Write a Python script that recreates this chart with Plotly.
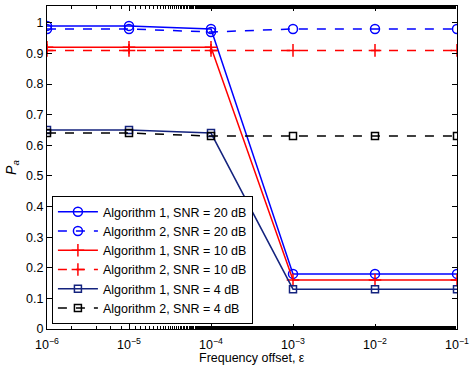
import plotly.graph_objects as go

x = [1e-6, 1e-5, 1e-4, 1e-3, 1e-2, 1e-1]
alg1_20 = [0.99, 0.99, 0.98, 0.18, 0.18, 0.18]
alg2_20 = [0.98, 0.98, 0.97, 0.98, 0.98, 0.98]
alg1_10 = [0.92, 0.92, 0.92, 0.16, 0.16, 0.16]
alg2_10 = [0.91, 0.91, 0.91, 0.91, 0.91, 0.91]
alg1_4 = [0.65, 0.65, 0.64, 0.13, 0.13, 0.13]
alg2_4 = [0.64, 0.64, 0.63, 0.63, 0.63, 0.63]

names = ["Algorithm 1, SNR = 20 dB", "Algorithm 2, SNR = 20 dB",
         "Algorithm 1, SNR = 10 dB", "Algorithm 2, SNR = 10 dB",
         "Algorithm 1, SNR = 4 dB", "Algorithm 2, SNR = 4 dB"]
xtick_vals = [1e-6, 1e-5, 1e-4, 1e-3, 1e-2, 1e-1]
xtick_text = ["10<sup>−6</sup>", "10<sup>−5</sup>", "10<sup>−4</sup>",
              "10<sup>−3</sup>", "10<sup>−2</sup>", "10<sup>−1</sup>"]
ytick_vals = [0, 0.1, 0.2, 0.3, 0.4, 0.5, 0.6, 0.7, 0.8, 0.9, 1]
ytick_text = ["0", "0.1", "0.2", "0.3", "0.4", "0.5", "0.6", "0.7", "0.8", "0.9", "1"]

series = [
    (alg1_20, "#0000ff", "solid", "circle-open", 9),
    (alg2_20, "#0000ff", "dash", "circle-open", 9),
    (alg1_10, "#ff0000", "solid", "cross-thin-open", 9),
    (alg2_10, "#ff0000", "dash", "cross-thin-open", 9),
    (alg1_4, "#14237e", "solid", "square-open", 7),
    (alg2_4, "#000000", "dash", "square-open", 7),
]

FONT = "Liberation Sans, Arial"

fig = go.Figure()
for (ys, col, dash, sym, sz), nm in zip(series, names):
    fig.add_trace(go.Scatter(
        x=x, y=ys, name=nm, mode="lines+markers",
        line=dict(color=col, width=1.5, dash=dash),
        marker=dict(symbol=sym, size=sz, color=col, line=dict(color=col, width=1.5)),
    ))

axis_common = dict(
    showline=True, linecolor="black", linewidth=1, mirror="ticks",
    ticks="inside", ticklen=5, tickcolor="black", showgrid=False, zeroline=False,
    tickfont=dict(family=FONT, size=12.5, color="black"),
)

fig.update_xaxes(type="log", range=[-6, -1], tickvals=xtick_vals, ticktext=xtick_text,
                 minor=dict(ticks="inside", ticklen=3, tickcolor="black", showgrid=False),
                 ticklabelstandoff=4,
                 **axis_common)
fig.update_yaxes(range=[0, 1.055], tickvals=ytick_vals, ticktext=ytick_text,
                 title=dict(text="<i>P<sub>a</sub></i>", font=dict(family=FONT, size=14, color="black"), standoff=6),
                 **axis_common)

fig.add_annotation(text="Frequency offset, ε", xref="paper", yref="paper",
                   x=0.5, y=-0.09, xanchor="center", yanchor="middle", showarrow=False,
                   font=dict(family=FONT, size=12.5, color="black"))

fig.update_layout(
    width=474, height=369,
    margin=dict(l=47, r=15, t=5, b=40),
    plot_bgcolor="white", paper_bgcolor="white",
    legend=dict(x=0.012, y=0.015, xanchor="left", yanchor="bottom",
                bgcolor="white", bordercolor="black", borderwidth=1,
                font=dict(family=FONT, size=12.5, color="black"),
                tracegroupgap=0, itemwidth=40),
    showlegend=True,
)

fig.write_html("out.html", config={"displayModeBar": False},
               post_script="document.body.style.margin='0';")
